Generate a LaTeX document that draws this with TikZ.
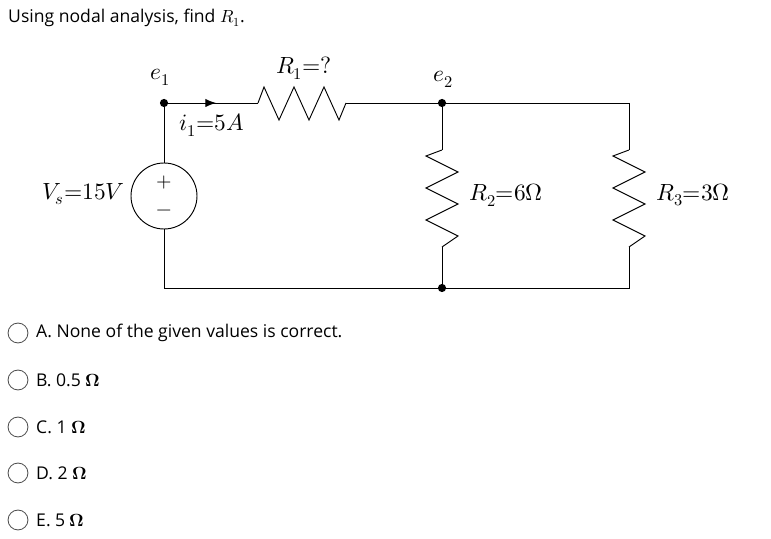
\documentclass[tikz,border=0pt]{standalone}
\usepackage{amsmath}
\usepackage{fontspec}
\setmainfont{Open Sans}
\usepackage{unicode-math}
\setmathfont{Latin Modern Math}
\usetikzlibrary{arrows.meta}

\begin{document}
\begin{tikzpicture}[x=0.03cm, y=-0.03cm]
    % Styles
    \tikzstyle{wire} = [draw=black, line width=0.8pt]
    \tikzstyle{dot} = [circle, fill=black, inner sep=0pt, minimum size=7pt]
    \tikzstyle{lbl} = [font=\fontsize{20}{24}\selectfont, inner sep=1pt]
    \tikzstyle{opt} = [circle, draw=black!70, line width=0.7pt, minimum size=17pt, inner sep=0pt]
    \tikzstyle{opttext} = [anchor=west, font=\fontsize{15}{18}\selectfont, inner sep=0pt]

    \useasboundingbox (0,0) rectangle (771,539);

    % Question
    \node[anchor=west, font=\fontsize{15}{18}\selectfont, inner sep=0pt] (q) at (8,18) {Using nodal analysis, find $R_1$.};

    % Nodes
    \node[dot] (e1) at (164,103) {};
    \node[dot] (e2) at (442,103) {};
    \node[dot] (g2) at (442,288) {};
    \coordinate (g1) at (164,288);
    \coordinate (t3) at (629,103);
    \coordinate (b3) at (629,288);
    \node[circle, draw, line width=0.8pt, minimum size=66*0.03cm, inner sep=0pt] (vs) at (164,196) {};
    \node[font=\fontsize{17}{17}\selectfont] at (164,183) {$+$};
    \node[font=\fontsize{17}{17}\selectfont] at (164,213) {$-$};
    \coordinate (r1a) at (258,103);
    \coordinate (r1b) at (346,103);
    \coordinate (r2a) at (442,150);
    \coordinate (r2b) at (442,247);
    \coordinate (r3a) at (629,150);
    \coordinate (r3b) at (629,247);

    % Wires
    \draw[wire] (e1) -- (r1a);
    \draw[wire] (r1a) -- ++(6,-16) -- ++(15,33) -- ++(15,-33) -- ++(15,33) -- ++(15,-33) -- ++(15,33) -- (r1b);
    \draw[wire] (r1b) -- (e2) -- (t3);
    \draw[wire] (e2) -- (r2a);
    \draw[wire] (r2a) -- ++(-16,6) -- ++(32,16) -- ++(-32,16) -- ++(32,16) -- ++(-32,16) -- ++(32,16) -- (r2b);
    \draw[wire] (r2b) -- (g2);
    \draw[wire] (t3) -- (r3a);
    \draw[wire] (r3a) -- ++(-16,6) -- ++(32,16) -- ++(-32,16) -- ++(32,16) -- ++(-32,16) -- ++(32,16) -- (r3b);
    \draw[wire] (r3b) -- (b3) -- (g2) -- (g1) -- (vs.south);
    \draw[wire] (vs.north) -- (e1);
    \draw[-{Latex[length=9pt, width=7pt]}, line width=0.8pt] (e1) -- (216,103);

    % Labels
    \node[lbl] at (160,77) {$e_1$};
    \node[lbl] at (443,79) {$e_2$};
    \node[lbl] at (304,68) {$R_1{=}?$};
    \node[lbl] at (212,125) {$i_1{=}5A$};
    \node[lbl, anchor=east] at (126,194) {$V_s{=}15V$};
    \node[lbl, anchor=west] at (468,195) {$R_2{=}6\Omega$};
    \node[lbl, anchor=west] at (655,195) {$R_3{=}3\Omega$};

    % Options
    \foreach \y/\t [count=\i] in {333/A. None of the given values is correct., 380/B. 0.5 $\symbfup{\Omega}$, 427/C. 1 $\symbfup{\Omega}$, 473/D. 2 $\symbfup{\Omega}$, 520/E. 5 $\symbfup{\Omega}$} {
        \node[opt] (o\i) at (18,\y) {};
        \node[opttext] (t\i) at (36,\y) {\t};
    }
\end{tikzpicture}
\end{document}
